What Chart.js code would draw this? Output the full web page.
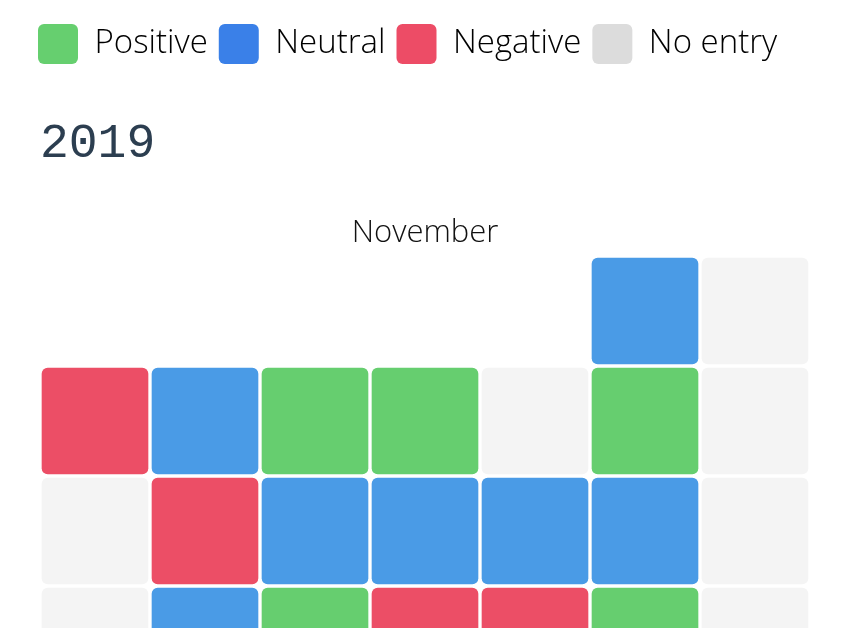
<!DOCTYPE html>
<html>
<head>
<meta charset="utf-8">
<title>Mood calendar</title>
<script src="https://cdn.jsdelivr.net/npm/chart.js@4/dist/chart.umd.min.js"></script>
<style>
  html, body { margin: 0; padding: 0; background: #fff; overflow: hidden; }
  canvas { display: block; }
</style>
</head>
<body>
<canvas id="moodChart" width="848" height="696"></canvas>
<script>
// Calendar data
const year = 2019;
const monthIndex = 10; // November
const monthName = 'November';
const weekdays = ['Sun', 'Mon', 'Tue', 'Wed', 'Thu', 'Fri', 'Sat'];
const moodNames = ['Positive', 'Neutral', 'Negative', 'No entry'];
const moodKeys = ['positive', 'neutral', 'negative', 'none'];
const cellColors = ['#66ce6f', '#4a9be6', '#ec4e66', '#f4f4f4'];
const legendColors = ['#66cf6f', '#3a80e8', '#ed4c66', '#dcdcdc'];

// one entry per day, starting at the 1st
const dayMoods = [
    'neutral', 'none',
    'negative', 'neutral', 'positive', 'positive', 'none', 'positive', 'none',
    'none', 'negative', 'neutral', 'neutral', 'neutral', 'neutral', 'none',
    'none', 'neutral', 'positive', 'negative', 'negative', 'positive', 'none'
];
const weekCount = 4;

// build one dataset per mood
const firstWeekday = new Date(year, monthIndex, 1).getDay();

function buildDatasets() {
    return moodKeys.map((key, i) => {
        const points = [];
        dayMoods.forEach((mood, d) => {
            if (mood !== key) return;
            const slot = firstWeekday + d;
            const week = Math.floor(slot / 7);
            points.push({ x: weekdays[slot % 7], y: [week, week + 1], day: d + 1 });
        });
        return {
            label: moodNames[i],
            data: points,
            backgroundColor: cellColors[i],
            borderColor: '#ffffff',
            borderWidth: 2,
            borderRadius: 8,
            borderSkipped: false,
            grouped: false,
            barPercentage: 1,
            categoryPercentage: 1
        };
    });
}

const ctx = document.getElementById('moodChart').getContext('2d');

new Chart(ctx, {
    type: 'bar',
    data: {
        labels: weekdays,
        datasets: buildDatasets()
    },
    options: {
        responsive: false,
        animation: false,
        layout: {
            padding: { left: 27, right: 38, top: 13, bottom: 0 }
        },
        scales: {
            x: {
                type: 'category',
                display: false
            },
            y: {
                type: 'linear',
                min: 0,
                max: weekCount,
                reverse: true,
                grid: { display: false },
                border: { display: false },
                ticks: { display: false },
                afterFit: function(scale) {
                    scale.width = 13;
                }
            }
        },
        plugins: {
            legend: {
                position: 'top',
                align: 'start',
                weight: 3000,
                labels: {
                    boxWidth: 40,
                    boxHeight: 40,
                    useBorderRadius: true,
                    borderRadius: 6,
                    padding: 11,
                    color: '#2c3e50',
                    font: { family: "'Open Sans'", size: 33, weight: 300 },
                    generateLabels: function(chart) {
                        return chart.data.datasets.map((ds, i) => ({
                            text: ds.label,
                            fillStyle: legendColors[i],
                            strokeStyle: legendColors[i],
                            lineWidth: 0,
                            borderRadius: 6,
                            datasetIndex: i,
                            hidden: false
                        }));
                    }
                },
                onClick: null
            },
            title: {
                display: true,
                text: String(year),
                align: 'start',
                fullSize: false,
                color: '#2c3e50',
                font: { family: "'Liberation Mono'", size: 48, weight: 'normal' },
                padding: { top: 41, bottom: 20.4 }
            },
            subtitle: {
                display: true,
                text: monthName,
                align: 'center',
                fullSize: false,
                color: '#111111',
                font: { family: "'Open Sans'", size: 31, weight: 300 },
                padding: { top: 21.4, bottom: 4.4 }
            },
            tooltip: { enabled: false }
        }
    }
});
</script>
</body>
</html>
